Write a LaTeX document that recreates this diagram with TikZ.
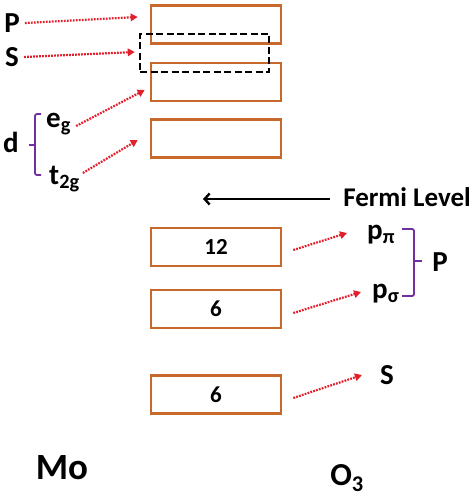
\documentclass[tikz,border=0pt]{standalone}
\usepackage{fontspec}
\setmainfont{Carlito}
\usepackage{xcolor}
\usepackage{tikz}
\usetikzlibrary{
  arrows.meta,
  positioning
}
\definecolor{bandorange}{HTML}{C8692C}
\definecolor{dotred}{HTML}{E2202C}
\definecolor{bracepurple}{HTML}{7030A0}
\tikzset{
  bandbox/.style={
    rectangle, draw=bandorange, line width=2.6pt,
    minimum width=130pt, minimum height=38pt, inner sep=0pt,
    font=\fontsize{23}{25}\selectfont\bfseries
  },
  hybridbox/.style={
    rectangle, draw=black, dash pattern=on 7pt off 3.5pt, line width=2.4pt,
    minimum width=129pt, minimum height=38pt, inner sep=0pt
  },
  orblabel/.style={
    font=\fontsize{29}{31}\selectfont\bfseries, inner sep=0pt
  },
  atomlabel/.style={
    font=\fontsize{37}{40}\selectfont\bfseries, inner sep=0pt
  },
  dotarrow/.style={
    -{Triangle[length=7pt,width=7.5pt]}, dash pattern=on 1.8pt off 1.2pt,
    line width=2.2pt, color=dotred
  },
  fermiarrow/.style={
    -{Straight Barb[length=5pt,width=11pt,line width=2.4pt]}, line width=2.6pt, color=black
  },
  bracket/.style={
    draw=bracepurple, line width=1.8pt, rounded corners=2pt
  },
}

\begin{document}
\begin{tikzpicture}[x=1pt,y=-1pt]
  \useasboundingbox (0,0) rectangle (474,500);

  \node[bandbox] (b1) at (216,24.5) {};
  \node[bandbox] (b2) at (216,82) {};
  \node[bandbox] (b3) at (216,138.5) {};
  \node[bandbox] (b4) at (216,247) {12};
  \node[bandbox] (b5) at (216,309) {6};
  \node[bandbox] (b6) at (216,394.5) {6};
  \node[hybridbox] (hyb) at (204.5,53) {};

  \node[orblabel] (lblP) at (12,23) {P};
  \node[orblabel] (lblS) at (12,57) {S};
  \node[orblabel] (lblD) at (11,142) {d};
  \node[orblabel, anchor=west] (lblEg) at (46,124) {e\textsubscript{g}};
  \node[orblabel, anchor=west] (lblTtg) at (49,179) {t\textsubscript{2g}};

  \node[orblabel, anchor=east, font=\fontsize{27}{29}\selectfont\bfseries]
    (fermi) at (471,197) {Fermi Level};
  \coordinate (fermiTip) at (203,199);

  \node[orblabel, anchor=west] (lblPpi) at (367,235) {p\textsubscript{π}};
  \node[orblabel, anchor=west] (lblPsig) at (372,294) {p\textsubscript{σ}};
  \node[orblabel] (lblPO) at (440,262) {P};
  \node[orblabel] (lblSO) at (387,375) {S};

  \node[atomlabel] (lblMo) at (62,468) {Mo};
  \node[orblabel, font=\fontsize{32}{34}\selectfont\bfseries]
    (lblO) at (347,478) {O\textsubscript{3}};

  \draw[dotarrow] ([xshift=5pt]lblP.east) -- ([xshift=-12pt,yshift=7.5pt]b1.west);
  \draw[dotarrow] ([xshift=5pt]lblS.east) -- ([xshift=-4pt,yshift=1pt]hyb.west);
  \draw[dotarrow] ([xshift=5pt,yshift=-2pt]lblEg.east) -- ([xshift=-5pt,yshift=-8pt]b2.west);
  \draw[dotarrow] ([xshift=3pt,yshift=6pt]lblTtg.east) -- ([xshift=-12pt,yshift=-1.5pt]b3.west);

  \draw[dotarrow] ([xshift=11pt,yshift=-3pt]b4.east) -- ([xshift=-20pt,yshift=2pt]lblPpi.west);
  \draw[dotarrow] ([xshift=11pt,yshift=-4pt]b5.east) -- ([xshift=-11pt,yshift=2pt]lblPsig.west);
  \draw[dotarrow] ([xshift=11pt,yshift=-3.5pt]b6.east) -- ([xshift=-18pt]lblSO.west);

  \draw[fermiarrow] ([xshift=-13pt,yshift=-2pt]fermi.west) -- (fermiTip);

  \draw[bracket] (41,114) -- (35,114) -- (35,175) -- (41,175);
  \draw[bracket] (35,145) -- (29,145);
  \draw[bracket] (402,229) -- (414,229) -- (414,296) -- (402,296);
  \draw[bracket] (414,261) -- (422,261);
\end{tikzpicture}
\end{document}
